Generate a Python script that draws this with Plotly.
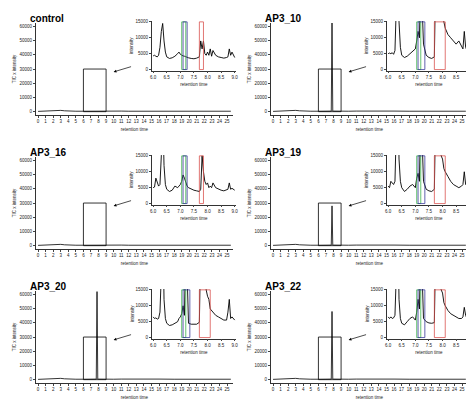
import plotly.graph_objects as go

samples = ["control", "AP3_10", "AP3_16", "AP3_19", "AP3_20", "AP3_22"]

main_t = [0, 0.5, 1, 1.5, 2, 2.5, 3, 3.5, 4, 5, 6, 7, 7.5, 7.7, 7.8, 7.9, 8, 8.5, 9,
          10, 11, 12, 14, 16, 18, 20, 22, 24, 25.5]
main_base = [200, 300, 400, 500, 800, 1000, 900, 600, 400, 300, 300, 400, 400, 400, 400,
             400, 400, 300, 300, 300, 400, 300, 300, 400, 300, 300, 300, 300, 300]
main_peak = [600, 64000, 600, 28000, 62000, 48000]

inset_t = [6.0, 6.05, 6.1, 6.15, 6.2, 6.25, 6.3, 6.35, 6.4, 6.45,
           6.5, 6.6, 6.7, 6.8, 6.9, 6.95, 7.0, 7.05, 7.1, 7.15,
           7.2, 7.25, 7.3, 7.4, 7.5, 7.6, 7.7, 7.75, 7.8, 7.85,
           7.9, 7.95, 8.0, 8.05, 8.1, 8.15, 8.2, 8.3, 8.4, 8.5,
           8.6, 8.7, 8.75, 8.8, 8.85, 8.9, 9.0]

inset_control = [4300, 4500, 4200, 4000, 4500, 7000, 12000, 14500, 9000, 5500,
                 4000, 3500, 3700, 4200, 5000, 5500, 4800, 4500, 4300, 4200,
                 4000, 3900, 3700, 3500, 3400, 3600, 4000, 9000, 6500, 9000,
                 5000, 4500, 5500, 4500, 6500, 4200, 6000, 4500, 4000, 3800,
                 3600, 3800, 4000, 6500, 4500, 5500, 3800]
inset_ap3_10 = [5000, 5200, 5000, 5300, 4800, 6000, 20000, 40000, 15000, 7000,
                4500, 3800, 4200, 5000, 5500, 6000, 6500, 9000, 12000, 10000,
                30000, 20000, 8000, 4500, 3800, 3500, 4000, 30000, 40000, 30000,
                25000, 18000, 16000, 15000, 13000, 12000, 11000, 10000, 9000, 8000,
                9000, 7000, 6500, 12000, 7000, 6000, 5500]
inset_ap3_16 = [5000, 5200, 8000, 6500, 5500, 6000, 15000, 30000, 12000, 6000,
                4500, 3800, 4200, 5500, 5000, 5500, 6000, 7000, 9000, 8000,
                6500, 5500, 5000, 4500, 4200, 4000, 3800, 4500, 15000, 10000,
                7000, 6000, 6500, 5000, 5500, 5000, 6500, 5000, 4500, 4200,
                4000, 4200, 4500, 6500, 4500, 4800, 4200]
inset_ap3_19 = [5500, 5000, 7000, 6500, 6000, 7000, 20000, 40000, 14000, 7000,
                5000, 3800, 4500, 5500, 6000, 5500, 5000, 8000, 9500, 7000,
                30000, 20000, 7000, 4500, 4000, 3800, 4500, 30000, 40000, 30000,
                20000, 15000, 14000, 11000, 10000, 9000, 8500, 7000, 6000, 5500,
                5000, 5500, 6000, 10000, 6000, 5500, 5500]
inset_ap3_20 = [6500, 6000, 6200, 5800, 6000, 8000, 20000, 40000, 12000, 6000,
                4500, 3800, 4000, 4500, 5000, 6000, 6500, 7500, 10000, 7000,
                30000, 20000, 4500, 4200, 4300, 4200, 4800, 30000, 40000, 30000,
                20000, 15000, 13000, 12000, 9000, 8500, 8000, 7000, 6500, 6000,
                5500, 5500, 8000, 12000, 6000, 6500, 5500]
inset_ap3_22 = [6500, 6000, 6500, 6000, 6200, 7000, 20000, 40000, 12000, 6000,
                4500, 4000, 5000, 6000, 6500, 6000, 5500, 8000, 12000, 9000,
                30000, 20000, 6000, 5000, 4600, 4500, 4700, 30000, 40000, 30000,
                20000, 15000, 14000, 11000, 10000, 9000, 8500, 7500, 7000, 6500,
                6000, 6000, 6500, 9500, 7000, 6000, 5500]
insets = [inset_control, inset_ap3_10, inset_ap3_16, inset_ap3_19, inset_ap3_20, inset_ap3_22]

green_box = [7.05, 7.2]
blue_box = [[7.1, 7.25], [7.1, 7.35], [7.1, 7.25], [7.1, 7.35], [7.1, 7.35], [7.1, 7.35]]
red_box = [[7.7, 7.85], [7.7, 8.1], [7.7, 7.85], [7.7, 8.1], [7.7, 8.1], [7.7, 8.1]]

W, H = 474, 404
fig = go.Figure()
layout = {}
font_s = dict(family="Liberation Sans", size=4.5, color="#222")

for i, name in enumerate(samples):
    col, row = i % 2, i // 2
    ox, oy = col * 237, row * 135
    a_main, a_in = 2 * i + 1, 2 * i + 2
    sfx_m = "" if a_main == 1 else str(a_main)
    sfx_i = str(a_in)

    y = list(main_base)
    y[main_t.index(7.8)] = main_peak[i]
    fig.add_trace(go.Scatter(x=main_t, y=y, mode="lines", line=dict(color="black", width=0.8),
                             xaxis="x" + sfx_m, yaxis="y" + sfx_m, showlegend=False))
    fig.add_trace(go.Scatter(x=inset_t, y=insets[i], mode="lines", line=dict(color="black", width=0.9),
                             xaxis="x" + sfx_i, yaxis="y" + sfx_i, showlegend=False))

    ax = dict(showgrid=False, zeroline=False, showline=True, linecolor="#333", linewidth=0.6,
              ticks="outside", ticklen=2, tickwidth=0.6, tickfont=font_s, tickangle=0)
    layout["xaxis" + sfx_m] = dict(ax, domain=[(ox + 26) / W, (ox + 225) / W], range=[-0.3, 25.8],
                                   anchor="y" + sfx_m, dtick=1, tick0=0,
                                   title=dict(text="retention time", font=font_s, standoff=4))
    layout["yaxis" + sfx_m] = dict(ax, domain=[1 - (oy + 107) / H, 1 - (oy + 14) / H], range=[-2500, 62500],
                                   anchor="x" + sfx_m, tickvals=[0, 10000, 20000, 30000, 40000, 50000, 60000],
                                   tickformat="d",
                                   title=dict(text="TIC x intensity", font=font_s, standoff=2))
    layout["xaxis" + sfx_i] = dict(ax, domain=[(ox + 143) / W, (ox + 228) / W], range=[5.95, 9.05],
                                   anchor="y" + sfx_i, tickvals=[6, 6.5, 7, 7.5, 8, 8.5, 9],
                                   ticktext=["6.0", "6.5", "7.0", "7.5", "8.0", "8.5", "9.0"],
                                   title=dict(text="retention time", font=font_s, standoff=4))
    layout["yaxis" + sfx_i] = dict(ax, domain=[1 - (oy + 62) / H, 1 - (oy + 12) / H], range=[-300, 15300],
                                   anchor="x" + sfx_i, tickvals=[0, 5000, 10000, 15000], tickformat="d",
                                   title=dict(text="intensity", font=font_s, standoff=1))

    fig.add_shape(type="rect", xref="x" + sfx_m, yref="y" + sfx_m, x0=6, x1=9, y0=0, y1=30000,
                  line=dict(color="black", width=0.8))
    for (x0, x1), c in [(green_box, "#3cb44b"), (blue_box[i], "#3a3a9a"), (red_box[i], "#d9534f")]:
        fig.add_shape(type="rect", xref="x" + sfx_i, yref="y" + sfx_i, x0=x0, x1=x1, y0=0, y1=15000,
                      line=dict(color=c, width=0.8))
    fig.add_annotation(x=10, y=28000, ax=12.5, ay=32000, xref="x" + sfx_m, yref="y" + sfx_m,
                       axref="x" + sfx_m, ayref="y" + sfx_m, text="", showarrow=True,
                       arrowhead=2, arrowsize=0.8, arrowwidth=0.7, arrowcolor="black")
    fig.add_annotation(x=(ox + 18) / W, y=1 - (oy + 2) / H, xref="paper", yref="paper", text="<b>%s</b>" % name,
                       showarrow=False, xanchor="left", yanchor="top",
                       font=dict(family="Liberation Sans", size=10, color="black"))

fig.update_layout(**layout)
fig.update_layout(width=W, height=H, margin=dict(l=0, r=0, t=0, b=0),
                  plot_bgcolor="white", paper_bgcolor="white")
fig.write_html("out.html")
